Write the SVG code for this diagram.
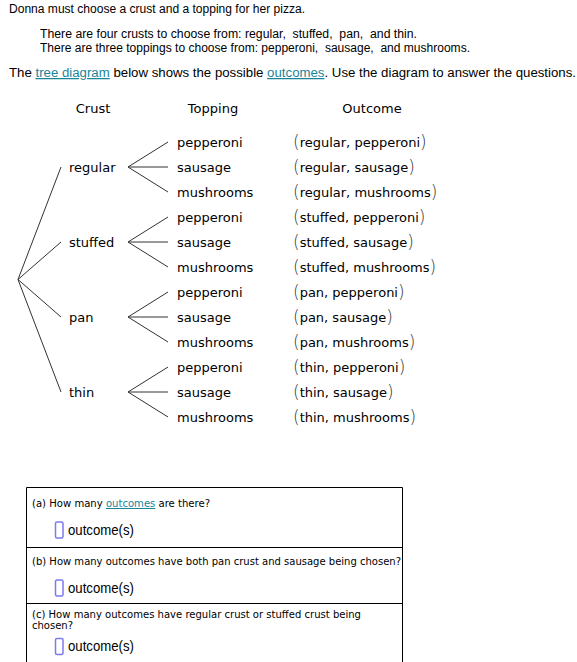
<svg xmlns="http://www.w3.org/2000/svg" width="577" height="662" viewBox="0 0 577 662">
<style>
.hd{font-family:"Liberation Sans",Arial,sans-serif;font-size:12.5px;fill:#000}
.lk{fill:#1a8599;text-decoration:underline}
.tl{font-family:"DejaVu Sans",Verdana,sans-serif;font-size:13px;fill:#000}
.oc{font-family:"DejaVu Sans",Verdana,sans-serif;font-size:13px;fill:#000}
.pr{font-family:"DejaVu Sans",sans-serif;font-size:17px;fill:#333;font-weight:200}
.q{font-family:"DejaVu Sans",Verdana,sans-serif;font-size:10px;fill:#000}
.ans{font-family:"Liberation Sans",Arial,sans-serif;font-size:14px;fill:#000}
.ln{stroke:#333;stroke-width:1;fill:none}
.box{fill:#fff;stroke:#7b7bef;stroke-width:1.5}
</style>
<rect width="577" height="662" fill="#fff"/>
<g id="intro">
<text class="hd" x="9" y="13" textLength="296" lengthAdjust="spacingAndGlyphs">Donna must choose a crust and a topping for her pizza.</text>
<text class="hd" x="40" y="38" textLength="377" lengthAdjust="spacingAndGlyphs" xml:space="preserve">There are four crusts to choose from: regular,  stuffed,  pan,  and thin.</text>
<text class="hd" x="40" y="51.5" textLength="430" lengthAdjust="spacingAndGlyphs" xml:space="preserve">There are three toppings to choose from: pepperoni,  sausage,  and mushrooms.</text>
<text class="hd" x="9" y="77" textLength="567" lengthAdjust="spacingAndGlyphs">The <tspan class="lk">tree diagram</tspan> below shows the possible <tspan class="lk">outcomes</tspan>. Use the diagram to answer the questions.</text>
</g>
<g id="headers">
<text class="tl" x="93" y="113" text-anchor="middle">Crust</text>
<text class="tl" x="213" y="113" text-anchor="middle">Topping</text>
<text class="tl" x="372" y="113" text-anchor="middle">Outcome</text>
</g>
<g id="connectors" class="ln">
<line x1="18" y1="279.5" x2="61" y2="167"/>
<line x1="18" y1="279.5" x2="61" y2="242"/>
<line x1="18" y1="279.5" x2="61" y2="317"/>
<line x1="18" y1="279.5" x2="61" y2="392"/>
<line x1="128" y1="167" x2="168" y2="142"/><line x1="128" y1="167" x2="168" y2="167"/><line x1="128" y1="167" x2="168" y2="192"/>
<line x1="128" y1="242" x2="168" y2="217"/><line x1="128" y1="242" x2="168" y2="242"/><line x1="128" y1="242" x2="168" y2="267"/>
<line x1="128" y1="317" x2="168" y2="292"/><line x1="128" y1="317" x2="168" y2="317"/><line x1="128" y1="317" x2="168" y2="342"/>
<line x1="128" y1="392" x2="168" y2="367"/><line x1="128" y1="392" x2="168" y2="392"/><line x1="128" y1="392" x2="168" y2="417"/>
</g>
<g id="crusts" class="tl">
<text id="c-regular" x="69" y="172">regular</text>
<text id="c-stuffed" x="69" y="247">stuffed</text>
<text id="c-pan" x="69" y="322">pan</text>
<text id="c-thin" x="69" y="397">thin</text>
</g>
<g id="toppings" class="tl">
<text x="177" y="147">pepperoni</text><text x="177" y="172">sausage</text><text x="177" y="197">mushrooms</text>
<text x="177" y="222">pepperoni</text><text x="177" y="247">sausage</text><text x="177" y="272">mushrooms</text>
<text x="177" y="297">pepperoni</text><text x="177" y="322">sausage</text><text x="177" y="347">mushrooms</text>
<text x="177" y="372">pepperoni</text><text x="177" y="397">sausage</text><text x="177" y="422">mushrooms</text>
</g>
<g id="outcomes" class="oc">
<text x="293" y="147"><tspan class="pr" dy="1">(</tspan><tspan dy="-1">regular, pepperoni</tspan><tspan class="pr" dy="1">)</tspan></text>
<text x="293" y="172"><tspan class="pr" dy="1">(</tspan><tspan dy="-1">regular, sausage</tspan><tspan class="pr" dy="1">)</tspan></text>
<text x="293" y="197"><tspan class="pr" dy="1">(</tspan><tspan dy="-1">regular, mushrooms</tspan><tspan class="pr" dy="1">)</tspan></text>
<text x="293" y="222"><tspan class="pr" dy="1">(</tspan><tspan dy="-1">stuffed, pepperoni</tspan><tspan class="pr" dy="1">)</tspan></text>
<text x="293" y="247"><tspan class="pr" dy="1">(</tspan><tspan dy="-1">stuffed, sausage</tspan><tspan class="pr" dy="1">)</tspan></text>
<text x="293" y="272"><tspan class="pr" dy="1">(</tspan><tspan dy="-1">stuffed, mushrooms</tspan><tspan class="pr" dy="1">)</tspan></text>
<text x="293" y="297"><tspan class="pr" dy="1">(</tspan><tspan dy="-1">pan, pepperoni</tspan><tspan class="pr" dy="1">)</tspan></text>
<text x="293" y="322"><tspan class="pr" dy="1">(</tspan><tspan dy="-1">pan, sausage</tspan><tspan class="pr" dy="1">)</tspan></text>
<text x="293" y="347"><tspan class="pr" dy="1">(</tspan><tspan dy="-1">pan, mushrooms</tspan><tspan class="pr" dy="1">)</tspan></text>
<text x="293" y="372"><tspan class="pr" dy="1">(</tspan><tspan dy="-1">thin, pepperoni</tspan><tspan class="pr" dy="1">)</tspan></text>
<text x="293" y="397"><tspan class="pr" dy="1">(</tspan><tspan dy="-1">thin, sausage</tspan><tspan class="pr" dy="1">)</tspan></text>
<text x="293" y="422"><tspan class="pr" dy="1">(</tspan><tspan dy="-1">thin, mushrooms</tspan><tspan class="pr" dy="1">)</tspan></text>
</g>
<g id="questions">
<path d="M26.5,663 V487.5 H402.5 V663" fill="none" stroke="#000" stroke-width="1"/>
<line x1="26" y1="547.5" x2="403" y2="547.5" stroke="#000"/>
<line x1="26" y1="603.5" x2="403" y2="603.5" stroke="#000"/>
<text class="q" x="32" y="507" textLength="178" lengthAdjust="spacingAndGlyphs">(a) How many <tspan class="lk">outcomes</tspan> are there?</text>
<rect class="box" x="55.5" y="522" width="7.5" height="16" rx="1.5"/>
<text class="ans" x="68" y="535" textLength="66" lengthAdjust="spacingAndGlyphs">outcome(s)</text>
<text class="q" x="32" y="565" textLength="369" lengthAdjust="spacingAndGlyphs">(b) How many outcomes have both pan crust and sausage being chosen?</text>
<rect class="box" x="55.5" y="580" width="7.5" height="16" rx="1.5"/>
<text class="ans" x="68" y="593" textLength="66" lengthAdjust="spacingAndGlyphs">outcome(s)</text>
<text class="q" x="32" y="618" textLength="329" lengthAdjust="spacingAndGlyphs">(c) How many outcomes have regular crust or stuffed crust being</text>
<text class="q" x="32" y="629">chosen?</text>
<rect class="box" x="55.5" y="638.5" width="7.5" height="16" rx="1.5"/>
<text class="ans" x="68" y="651" textLength="66" lengthAdjust="spacingAndGlyphs">outcome(s)</text>
</g>
</svg>
